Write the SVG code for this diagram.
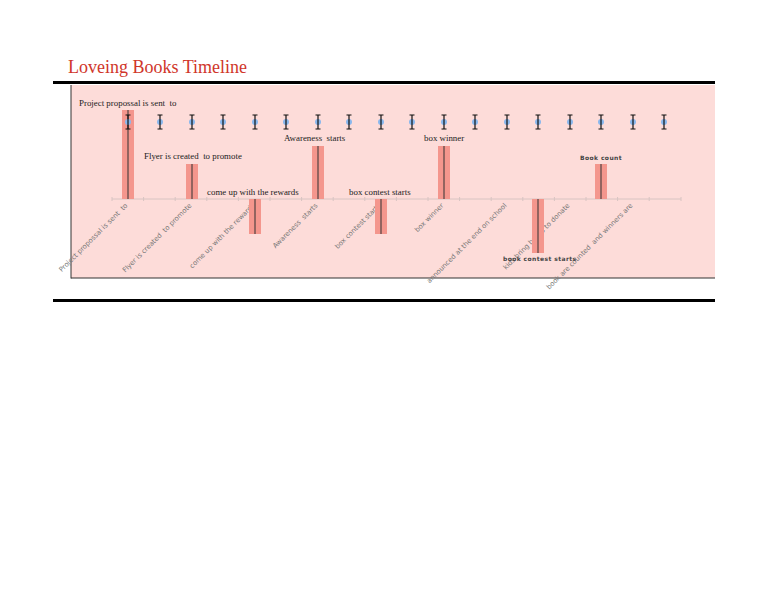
<svg xmlns="http://www.w3.org/2000/svg" width="768" height="594" viewBox="0 0 768 594">
<defs>
<style>
text{white-space:pre}
.lbl{font-family:"Liberation Serif","DejaVu Serif",serif;font-size:8.9px;fill:#222}
.sl{font-family:"DejaVu Sans","Liberation Sans",sans-serif;font-size:6px;font-weight:bold;fill:#444;letter-spacing:0.4px}
.ax{font-family:"DejaVu Sans","Liberation Sans",sans-serif;font-size:6.8px;fill:#777}
.bar{fill:#f4968d}
.stem{stroke:#333;stroke-width:1}
.eb{stroke:#111;stroke-width:1.2;fill:none}
.dot{fill:#8ab8ee}
</style>
</defs>
<rect width="768" height="594" fill="#fff"/>
<text x="68" y="73" font-family="Liberation Serif,DejaVu Serif,serif" font-size="18" fill="#d0362a">Loveing Books Timeline</text>
<rect x="71" y="85" width="644" height="193" fill="#fddcd9"/>
<line x1="71" y1="85" x2="71" y2="278.5" stroke="#333" stroke-width="1"/>
<line x1="71" y1="278" x2="715" y2="278" stroke="#333" stroke-width="1.2"/>
<line x1="53" y1="82.5" x2="715" y2="82.5" stroke="#000" stroke-width="3"/>
<line x1="53" y1="300.5" x2="715" y2="300.5" stroke="#000" stroke-width="3"/>

<g id="axis">
<line x1="112" y1="199" x2="681" y2="199" stroke="#d8c4c2" stroke-width="1"/>
<path d="M112 197v4M143.6 197v4M175.2 197v4M206.8 197v4M238.4 197v4M270 197v4M301.6 197v4M333.2 197v4M364.8 197v4M396.4 197v4M428 197v4M459.6 197v4M491.2 197v4M522.8 197v4M554.4 197v4M586 197v4M617.6 197v4M649.2 197v4M681 197v4" stroke="#d8c4c2" stroke-width="1"/>
<g transform="translate(128,206) rotate(-45)"><text class="ax" text-anchor="end" xml:space="preserve">Project propossal is sent  to</text></g>
<g transform="translate(192,206) rotate(-45)"><text class="ax" text-anchor="end" xml:space="preserve">Flyer is created  to promote</text></g>
<g transform="translate(255,206) rotate(-45)"><text class="ax" text-anchor="end">come up with the rewards</text></g>
<g transform="translate(318,206) rotate(-45)"><text class="ax" text-anchor="end" xml:space="preserve">Awareness  starts</text></g>
<g transform="translate(381,206) rotate(-45)"><text class="ax" text-anchor="end">box contest starts</text></g>
<g transform="translate(444,206) rotate(-45)"><text class="ax" text-anchor="end">box winner</text></g>
<g transform="translate(507,206) rotate(-45)"><text class="ax" text-anchor="end">announced at the end on school</text></g>
<g transform="translate(570,206) rotate(-45)"><text class="ax" text-anchor="end">kids bring books to donate</text></g>
<g transform="translate(633,206) rotate(-45)"><text class="ax" text-anchor="end" xml:space="preserve">book are counted  and winners are</text></g>
</g>

<g id="bars">
<g id="e1"><rect class="bar" x="122" y="110" width="12" height="89"/><line class="stem" x1="128" y1="110" x2="128" y2="199"/></g>
<g id="e2"><rect class="bar" x="186" y="164" width="12" height="35"/><line class="stem" x1="192" y1="164" x2="192" y2="199"/></g>
<g id="e3"><rect class="bar" x="249" y="199" width="12" height="35"/><line class="stem" x1="255" y1="199" x2="255" y2="234"/></g>
<g id="e4"><rect class="bar" x="312" y="146" width="12" height="53"/><line class="stem" x1="318" y1="146" x2="318" y2="199"/></g>
<g id="e5"><rect class="bar" x="375" y="199" width="12" height="35"/><line class="stem" x1="381" y1="199" x2="381" y2="234"/></g>
<g id="e6"><rect class="bar" x="438" y="146" width="12" height="53"/><line class="stem" x1="444" y1="146" x2="444" y2="199"/></g>
<g id="e7"><rect class="bar" x="532" y="199" width="12" height="54"/><line class="stem" x1="538" y1="199" x2="538" y2="253"/></g>
<g id="e8"><rect class="bar" x="595" y="164" width="12" height="35"/><line class="stem" x1="601" y1="164" x2="601" y2="199"/></g>
</g>

<g id="markers">
<g class="dot">
<circle cx="128" cy="122" r="3"/><circle cx="160" cy="122" r="3"/><circle cx="192" cy="122" r="3"/><circle cx="223" cy="122" r="3"/><circle cx="255" cy="122" r="3"/><circle cx="286" cy="122" r="3"/><circle cx="318" cy="122" r="3"/><circle cx="349" cy="122" r="3"/><circle cx="381" cy="122" r="3"/><circle cx="412" cy="122" r="3"/><circle cx="444" cy="122" r="3"/><circle cx="475" cy="122" r="3"/><circle cx="507" cy="122" r="3"/><circle cx="538" cy="122" r="3"/><circle cx="570" cy="122" r="3"/><circle cx="601" cy="122" r="3"/><circle cx="633" cy="122" r="3"/><circle cx="664" cy="122" r="3"/>
</g>
<path class="eb" d="M128 115v14M125.5 115h5M125.5 129h5 M160 115v14M157.5 115h5M157.5 129h5 M192 115v14M189.5 115h5M189.5 129h5 M223 115v14M220.5 115h5M220.5 129h5 M255 115v14M252.5 115h5M252.5 129h5 M286 115v14M283.5 115h5M283.5 129h5 M318 115v14M315.5 115h5M315.5 129h5 M349 115v14M346.5 115h5M346.5 129h5 M381 115v14M378.5 115h5M378.5 129h5 M412 115v14M409.5 115h5M409.5 129h5 M444 115v14M441.5 115h5M441.5 129h5 M475 115v14M472.5 115h5M472.5 129h5 M507 115v14M504.5 115h5M504.5 129h5 M538 115v14M535.5 115h5M535.5 129h5 M570 115v14M567.5 115h5M567.5 129h5 M601 115v14M598.5 115h5M598.5 129h5 M633 115v14M630.5 115h5M630.5 129h5 M664 115v14M661.5 115h5M661.5 129h5"/>
</g>

<g id="labels">
<text class="lbl" x="79" y="106" xml:space="preserve">Project propossal is sent  to</text>
<text class="lbl" x="144" y="159" xml:space="preserve">Flyer is created  to promote</text>
<text class="lbl" x="207" y="195">come up with the rewards</text>
<text class="lbl" x="284" y="141" xml:space="preserve">Awareness  starts</text>
<text class="lbl" x="349" y="195">box contest starts</text>
<text class="lbl" x="424" y="141">box winner</text>
<text class="sl" x="580" y="160">Book count</text>
<text class="sl" x="503" y="261">book contest starts</text>
</g>
</svg>
